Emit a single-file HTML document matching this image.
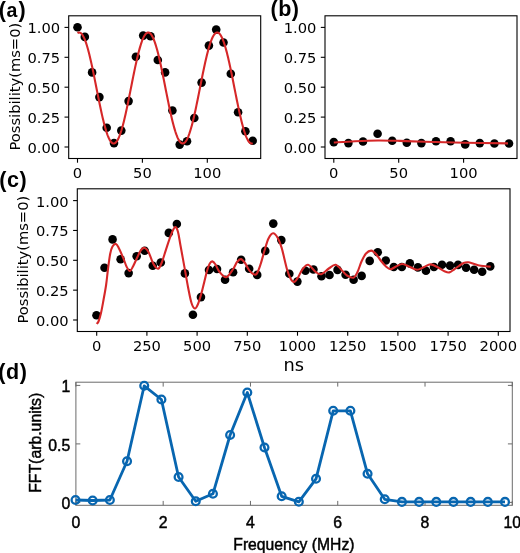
<!DOCTYPE html>
<html><head><meta charset="utf-8"><title>Figure</title>
<style>html,body{margin:0;padding:0;background:#fff;width:520px;height:553px;overflow:hidden}svg{display:block}text{fill:#000}.dt text{stroke:#000;stroke-width:0.45px}</style>
</head><body>
<svg width="520" height="553" viewBox="0 0 520 553">
<line x1="77.50" y1="158.50" x2="77.50" y2="162.70" stroke="#000" stroke-width="1.1"/>
<text x="77.50" y="178.10" font-size="14.70" style="font-family:'DejaVu Sans',sans-serif" text-anchor="middle" font-weight="normal">0</text>
<line x1="142.40" y1="158.50" x2="142.40" y2="162.70" stroke="#000" stroke-width="1.1"/>
<text x="142.40" y="178.10" font-size="14.70" style="font-family:'DejaVu Sans',sans-serif" text-anchor="middle" font-weight="normal">50</text>
<line x1="207.30" y1="158.50" x2="207.30" y2="162.70" stroke="#000" stroke-width="1.1"/>
<text x="207.30" y="178.10" font-size="14.70" style="font-family:'DejaVu Sans',sans-serif" text-anchor="middle" font-weight="normal">100</text>
<line x1="64.50" y1="147.00" x2="68.70" y2="147.00" stroke="#000" stroke-width="1.1"/>
<text x="60.10" y="152.90" font-size="14.70" style="font-family:'DejaVu Sans',sans-serif" text-anchor="end" font-weight="normal">0.00</text>
<line x1="64.50" y1="117.10" x2="68.70" y2="117.10" stroke="#000" stroke-width="1.1"/>
<text x="60.10" y="123.00" font-size="14.70" style="font-family:'DejaVu Sans',sans-serif" text-anchor="end" font-weight="normal">0.25</text>
<line x1="64.50" y1="87.20" x2="68.70" y2="87.20" stroke="#000" stroke-width="1.1"/>
<text x="60.10" y="93.10" font-size="14.70" style="font-family:'DejaVu Sans',sans-serif" text-anchor="end" font-weight="normal">0.50</text>
<line x1="64.50" y1="57.30" x2="68.70" y2="57.30" stroke="#000" stroke-width="1.1"/>
<text x="60.10" y="63.20" font-size="14.70" style="font-family:'DejaVu Sans',sans-serif" text-anchor="end" font-weight="normal">0.75</text>
<line x1="64.50" y1="27.40" x2="68.70" y2="27.40" stroke="#000" stroke-width="1.1"/>
<text x="60.10" y="33.30" font-size="14.70" style="font-family:'DejaVu Sans',sans-serif" text-anchor="end" font-weight="normal">1.00</text>
<text transform="translate(20.10,86.65) rotate(-90)" font-size="14.70" style="font-family:'DejaVu Sans',sans-serif" text-anchor="middle">Possibility(ms=0)</text>
<circle cx="77.50" cy="27.30" r="4.3" fill="#000"/>
<circle cx="84.80" cy="36.90" r="4.3" fill="#000"/>
<circle cx="92.10" cy="72.40" r="4.3" fill="#000"/>
<circle cx="99.40" cy="97.10" r="4.3" fill="#000"/>
<circle cx="106.70" cy="127.70" r="4.3" fill="#000"/>
<circle cx="114.00" cy="143.10" r="4.3" fill="#000"/>
<circle cx="121.30" cy="130.60" r="4.3" fill="#000"/>
<circle cx="128.60" cy="101.10" r="4.3" fill="#000"/>
<circle cx="135.90" cy="56.70" r="4.3" fill="#000"/>
<circle cx="143.20" cy="35.60" r="4.3" fill="#000"/>
<circle cx="150.50" cy="36.20" r="4.3" fill="#000"/>
<circle cx="157.80" cy="60.00" r="4.3" fill="#000"/>
<circle cx="165.10" cy="72.40" r="4.3" fill="#000"/>
<circle cx="172.40" cy="110.50" r="4.3" fill="#000"/>
<circle cx="179.70" cy="144.60" r="4.3" fill="#000"/>
<circle cx="187.00" cy="141.30" r="4.3" fill="#000"/>
<circle cx="194.30" cy="118.00" r="4.3" fill="#000"/>
<circle cx="201.60" cy="82.60" r="4.3" fill="#000"/>
<circle cx="208.90" cy="45.60" r="4.3" fill="#000"/>
<circle cx="216.20" cy="29.60" r="4.3" fill="#000"/>
<circle cx="223.50" cy="42.50" r="4.3" fill="#000"/>
<circle cx="230.80" cy="73.80" r="4.3" fill="#000"/>
<circle cx="238.10" cy="112.30" r="4.3" fill="#000"/>
<circle cx="245.40" cy="131.20" r="4.3" fill="#000"/>
<circle cx="252.70" cy="140.80" r="4.3" fill="#000"/>
<path d="M77.50,33.16 L78.09,32.79 L78.67,32.56 L79.26,32.50 L79.84,32.60 L80.43,32.85 L81.02,33.26 L81.60,33.82 L82.19,34.54 L82.77,35.41 L83.36,36.43 L83.95,37.60 L84.53,38.91 L85.12,40.36 L85.70,41.95 L86.29,43.67 L86.88,45.51 L87.46,47.48 L88.05,49.56 L88.63,51.75 L89.22,54.04 L89.81,56.43 L90.39,58.91 L90.98,61.47 L91.56,64.11 L92.15,66.81 L92.73,69.58 L93.32,72.40 L93.91,75.26 L94.49,78.16 L95.08,81.09 L95.66,84.03 L96.25,86.99 L96.84,89.95 L97.42,92.91 L98.01,95.85 L98.59,98.77 L99.18,101.66 L99.77,104.51 L100.35,107.31 L100.94,110.06 L101.52,112.74 L102.11,115.36 L102.70,117.89 L103.28,120.34 L103.87,122.70 L104.45,124.96 L105.04,127.12 L105.63,129.16 L106.21,131.09 L106.80,132.89 L107.38,134.57 L107.97,136.11 L108.56,137.52 L109.14,138.79 L109.73,139.91 L110.31,140.88 L110.90,141.70 L111.49,142.38 L112.07,142.89 L112.66,143.25 L113.24,143.45 L113.83,143.50 L114.42,143.38 L115.00,143.11 L115.59,142.68 L116.17,142.10 L116.76,141.36 L117.34,140.47 L117.93,139.43 L118.52,138.25 L119.10,136.92 L119.69,135.45 L120.27,133.85 L120.86,132.11 L121.45,130.26 L122.03,128.28 L122.62,126.18 L123.20,123.98 L123.79,121.67 L124.38,119.27 L124.96,116.78 L125.55,114.21 L126.13,111.57 L126.72,108.85 L127.31,106.08 L127.89,103.26 L128.48,100.39 L129.06,97.49 L129.65,94.56 L130.24,91.61 L130.82,88.65 L131.41,85.69 L131.99,82.73 L132.58,79.79 L133.17,76.88 L133.75,73.99 L134.34,71.15 L134.92,68.35 L135.51,65.61 L136.10,62.94 L136.68,60.33 L137.27,57.81 L137.85,55.36 L138.44,53.02 L139.03,50.77 L139.61,48.63 L140.20,46.60 L140.78,44.68 L141.37,42.90 L141.95,41.24 L142.54,39.71 L143.13,38.32 L143.71,37.07 L144.30,35.97 L144.88,35.01 L145.47,34.21 L146.06,33.55 L146.64,33.06 L147.23,32.72 L147.81,32.53 L148.40,32.51 L148.99,32.64 L149.57,32.93 L150.16,33.38 L150.74,33.98 L151.33,34.74 L151.92,35.65 L152.50,36.70 L153.09,37.91 L153.67,39.25 L154.26,40.74 L154.85,42.36 L155.43,44.11 L156.02,45.98 L156.60,47.97 L157.19,50.08 L157.78,52.30 L158.36,54.61 L158.95,57.02 L159.53,59.52 L160.12,62.11 L160.71,64.76 L161.29,67.48 L161.88,70.26 L162.46,73.09 L163.05,75.96 L163.64,78.87 L164.22,81.80 L164.81,84.75 L165.39,87.71 L165.98,90.67 L166.56,93.62 L167.15,96.56 L167.74,99.47 L168.32,102.35 L168.91,105.19 L169.49,107.98 L170.08,110.72 L170.67,113.38 L171.25,115.98 L171.84,118.50 L172.42,120.93 L173.01,123.26 L173.60,125.50 L174.18,127.63 L174.77,129.64 L175.35,131.54 L175.94,133.31 L176.53,134.96 L177.11,136.47 L177.70,137.84 L178.28,139.07 L178.87,140.16 L179.46,141.10 L180.04,141.88 L180.63,142.51 L181.21,142.99 L181.80,143.31 L182.39,143.48 L182.97,143.48 L183.56,143.33 L184.14,143.02 L184.73,142.55 L185.32,141.93 L185.90,141.16 L186.49,140.23 L187.07,139.16 L187.66,137.94 L188.25,136.57 L188.83,135.07 L189.42,133.44 L190.00,131.67 L190.59,129.78 L191.17,127.78 L191.76,125.66 L192.35,123.43 L192.93,121.10 L193.52,118.68 L194.10,116.17 L194.69,113.58 L195.28,110.91 L195.86,108.18 L196.45,105.40 L197.03,102.56 L197.62,99.69 L198.21,96.78 L198.79,93.84 L199.38,90.89 L199.96,87.93 L200.55,84.97 L201.14,82.02 L201.72,79.08 L202.31,76.17 L202.89,73.30 L203.48,70.47 L204.07,67.68 L204.65,64.96 L205.24,62.30 L205.82,59.71 L206.41,57.20 L207.00,54.79 L207.58,52.46 L208.17,50.24 L208.75,48.12 L209.34,46.12 L209.93,44.24 L210.51,42.48 L211.10,40.85 L211.68,39.36 L212.27,38.00 L212.86,36.79 L213.44,35.72 L214.03,34.80 L214.61,34.03 L215.20,33.42 L215.78,32.96 L216.37,32.66 L216.96,32.51 L217.54,32.53 L218.13,32.70 L218.71,33.03 L219.30,33.51 L219.89,34.15 L220.47,34.95 L221.06,35.89 L221.64,36.98 L222.23,38.22 L222.82,39.60 L223.40,41.12 L223.99,42.77 L224.57,44.55 L225.16,46.45 L225.75,48.47 L226.33,50.61 L226.92,52.85 L227.50,55.19 L228.09,57.62 L228.68,60.14 L229.26,62.74 L229.85,65.42 L230.43,68.15 L231.02,70.94 L231.61,73.79 L232.19,76.67 L232.78,79.58 L233.36,82.52 L233.95,85.47 L234.54,88.43 L235.12,91.39 L235.71,94.34 L236.29,97.27 L236.88,100.18 L237.47,103.05 L238.05,105.88 L238.64,108.65 L239.22,111.37 L239.81,114.02 L240.39,116.60 L240.98,119.09 L241.57,121.50 L242.15,123.81 L242.74,126.02 L243.32,128.13 L243.91,130.11 L244.50,131.98 L245.08,133.72 L245.67,135.34 L246.25,136.82 L246.84,138.15 L247.43,139.35 L248.01,140.40 L248.60,141.30 L249.18,142.05 L249.77,142.65 L250.36,143.08 L250.94,143.37 L251.53,143.49 L252.11,143.46 L252.70,143.27" fill="none" stroke="#d62728" stroke-width="2.1" stroke-linejoin="round"/>
<rect x="68.70" y="15.80" width="192.00" height="142.70" fill="none" stroke="#000" stroke-width="1.10"/>
<line x1="333.80" y1="158.50" x2="333.80" y2="162.70" stroke="#000" stroke-width="1.1"/>
<text x="333.80" y="178.10" font-size="14.70" style="font-family:'DejaVu Sans',sans-serif" text-anchor="middle" font-weight="normal">0</text>
<line x1="398.70" y1="158.50" x2="398.70" y2="162.70" stroke="#000" stroke-width="1.1"/>
<text x="398.70" y="178.10" font-size="14.70" style="font-family:'DejaVu Sans',sans-serif" text-anchor="middle" font-weight="normal">50</text>
<line x1="463.60" y1="158.50" x2="463.60" y2="162.70" stroke="#000" stroke-width="1.1"/>
<text x="463.60" y="178.10" font-size="14.70" style="font-family:'DejaVu Sans',sans-serif" text-anchor="middle" font-weight="normal">100</text>
<line x1="320.80" y1="147.00" x2="325.00" y2="147.00" stroke="#000" stroke-width="1.1"/>
<text x="316.40" y="152.90" font-size="14.70" style="font-family:'DejaVu Sans',sans-serif" text-anchor="end" font-weight="normal">0.00</text>
<line x1="320.80" y1="117.10" x2="325.00" y2="117.10" stroke="#000" stroke-width="1.1"/>
<text x="316.40" y="123.00" font-size="14.70" style="font-family:'DejaVu Sans',sans-serif" text-anchor="end" font-weight="normal">0.25</text>
<line x1="320.80" y1="87.20" x2="325.00" y2="87.20" stroke="#000" stroke-width="1.1"/>
<text x="316.40" y="93.10" font-size="14.70" style="font-family:'DejaVu Sans',sans-serif" text-anchor="end" font-weight="normal">0.50</text>
<line x1="320.80" y1="57.30" x2="325.00" y2="57.30" stroke="#000" stroke-width="1.1"/>
<text x="316.40" y="63.20" font-size="14.70" style="font-family:'DejaVu Sans',sans-serif" text-anchor="end" font-weight="normal">0.75</text>
<line x1="320.80" y1="27.40" x2="325.00" y2="27.40" stroke="#000" stroke-width="1.1"/>
<text x="316.40" y="33.30" font-size="14.70" style="font-family:'DejaVu Sans',sans-serif" text-anchor="end" font-weight="normal">1.00</text>
<circle cx="333.80" cy="142.10" r="4.3" fill="#000"/>
<circle cx="348.40" cy="143.10" r="4.3" fill="#000"/>
<circle cx="363.00" cy="141.50" r="4.3" fill="#000"/>
<circle cx="377.60" cy="133.80" r="4.3" fill="#000"/>
<circle cx="392.20" cy="140.80" r="4.3" fill="#000"/>
<circle cx="406.80" cy="142.70" r="4.3" fill="#000"/>
<circle cx="421.40" cy="143.10" r="4.3" fill="#000"/>
<circle cx="436.00" cy="141.20" r="4.3" fill="#000"/>
<circle cx="450.60" cy="141.20" r="4.3" fill="#000"/>
<circle cx="465.20" cy="144.40" r="4.3" fill="#000"/>
<circle cx="479.80" cy="143.10" r="4.3" fill="#000"/>
<circle cx="494.40" cy="143.50" r="4.3" fill="#000"/>
<circle cx="509.00" cy="143.50" r="4.3" fill="#000"/>
<path d="M333.80,142.50 C337.33,142.28 347.63,141.53 355.00,141.20 C362.37,140.87 370.50,140.55 378.00,140.50 C385.50,140.45 392.17,140.68 400.00,140.90 C407.83,141.12 414.17,141.48 425.00,141.80 C435.83,142.12 451.17,142.53 465.00,142.80 C478.83,143.07 500.83,143.30 508.00,143.40" fill="none" stroke="#d62728" stroke-width="2.1"/>
<rect x="325.00" y="15.80" width="192.00" height="142.70" fill="none" stroke="#000" stroke-width="1.10"/>
<line x1="96.70" y1="331.50" x2="96.70" y2="335.70" stroke="#000" stroke-width="1.1"/>
<text x="96.70" y="351.10" font-size="14.70" style="font-family:'DejaVu Sans',sans-serif" text-anchor="middle" font-weight="normal">0</text>
<line x1="146.90" y1="331.50" x2="146.90" y2="335.70" stroke="#000" stroke-width="1.1"/>
<text x="146.90" y="351.10" font-size="14.70" style="font-family:'DejaVu Sans',sans-serif" text-anchor="middle" font-weight="normal">250</text>
<line x1="197.10" y1="331.50" x2="197.10" y2="335.70" stroke="#000" stroke-width="1.1"/>
<text x="197.10" y="351.10" font-size="14.70" style="font-family:'DejaVu Sans',sans-serif" text-anchor="middle" font-weight="normal">500</text>
<line x1="247.30" y1="331.50" x2="247.30" y2="335.70" stroke="#000" stroke-width="1.1"/>
<text x="247.30" y="351.10" font-size="14.70" style="font-family:'DejaVu Sans',sans-serif" text-anchor="middle" font-weight="normal">750</text>
<line x1="297.50" y1="331.50" x2="297.50" y2="335.70" stroke="#000" stroke-width="1.1"/>
<text x="297.50" y="351.10" font-size="14.70" style="font-family:'DejaVu Sans',sans-serif" text-anchor="middle" font-weight="normal">1000</text>
<line x1="347.70" y1="331.50" x2="347.70" y2="335.70" stroke="#000" stroke-width="1.1"/>
<text x="347.70" y="351.10" font-size="14.70" style="font-family:'DejaVu Sans',sans-serif" text-anchor="middle" font-weight="normal">1250</text>
<line x1="397.90" y1="331.50" x2="397.90" y2="335.70" stroke="#000" stroke-width="1.1"/>
<text x="397.90" y="351.10" font-size="14.70" style="font-family:'DejaVu Sans',sans-serif" text-anchor="middle" font-weight="normal">1500</text>
<line x1="448.10" y1="331.50" x2="448.10" y2="335.70" stroke="#000" stroke-width="1.1"/>
<text x="448.10" y="351.10" font-size="14.70" style="font-family:'DejaVu Sans',sans-serif" text-anchor="middle" font-weight="normal">1750</text>
<line x1="498.30" y1="331.50" x2="498.30" y2="335.70" stroke="#000" stroke-width="1.1"/>
<text x="498.30" y="351.10" font-size="14.70" style="font-family:'DejaVu Sans',sans-serif" text-anchor="middle" font-weight="normal">2000</text>
<line x1="73.10" y1="320.00" x2="77.30" y2="320.00" stroke="#000" stroke-width="1.1"/>
<text x="68.70" y="325.90" font-size="14.70" style="font-family:'DejaVu Sans',sans-serif" text-anchor="end" font-weight="normal">0.00</text>
<line x1="73.10" y1="290.15" x2="77.30" y2="290.15" stroke="#000" stroke-width="1.1"/>
<text x="68.70" y="296.05" font-size="14.70" style="font-family:'DejaVu Sans',sans-serif" text-anchor="end" font-weight="normal">0.25</text>
<line x1="73.10" y1="260.30" x2="77.30" y2="260.30" stroke="#000" stroke-width="1.1"/>
<text x="68.70" y="266.20" font-size="14.70" style="font-family:'DejaVu Sans',sans-serif" text-anchor="end" font-weight="normal">0.50</text>
<line x1="73.10" y1="230.45" x2="77.30" y2="230.45" stroke="#000" stroke-width="1.1"/>
<text x="68.70" y="236.35" font-size="14.70" style="font-family:'DejaVu Sans',sans-serif" text-anchor="end" font-weight="normal">0.75</text>
<line x1="73.10" y1="200.60" x2="77.30" y2="200.60" stroke="#000" stroke-width="1.1"/>
<text x="68.70" y="206.50" font-size="14.70" style="font-family:'DejaVu Sans',sans-serif" text-anchor="end" font-weight="normal">1.00</text>
<text transform="translate(28.40,259.65) rotate(-90)" font-size="14.70" style="font-family:'DejaVu Sans',sans-serif" text-anchor="middle">Possibility(ms=0)</text>
<text x="293.70" y="370.90" font-size="17.80" style="font-family:'DejaVu Sans',sans-serif" text-anchor="middle" font-weight="normal">ns</text>
<circle cx="96.50" cy="315.20" r="4.3" fill="#000"/>
<circle cx="104.53" cy="267.70" r="4.3" fill="#000"/>
<circle cx="112.57" cy="239.40" r="4.3" fill="#000"/>
<circle cx="120.61" cy="259.30" r="4.3" fill="#000"/>
<circle cx="128.64" cy="273.10" r="4.3" fill="#000"/>
<circle cx="136.68" cy="256.30" r="4.3" fill="#000"/>
<circle cx="144.71" cy="250.80" r="4.3" fill="#000"/>
<circle cx="152.75" cy="265.80" r="4.3" fill="#000"/>
<circle cx="160.78" cy="262.50" r="4.3" fill="#000"/>
<circle cx="168.81" cy="232.90" r="4.3" fill="#000"/>
<circle cx="176.85" cy="224.00" r="4.3" fill="#000"/>
<circle cx="184.88" cy="273.40" r="4.3" fill="#000"/>
<circle cx="192.92" cy="314.70" r="4.3" fill="#000"/>
<circle cx="200.95" cy="297.10" r="4.3" fill="#000"/>
<circle cx="208.99" cy="270.00" r="4.3" fill="#000"/>
<circle cx="217.03" cy="269.00" r="4.3" fill="#000"/>
<circle cx="225.06" cy="279.80" r="4.3" fill="#000"/>
<circle cx="233.09" cy="272.30" r="4.3" fill="#000"/>
<circle cx="241.13" cy="259.80" r="4.3" fill="#000"/>
<circle cx="249.16" cy="268.70" r="4.3" fill="#000"/>
<circle cx="257.20" cy="274.90" r="4.3" fill="#000"/>
<circle cx="265.24" cy="250.90" r="4.3" fill="#000"/>
<circle cx="273.27" cy="223.60" r="4.3" fill="#000"/>
<circle cx="281.31" cy="240.10" r="4.3" fill="#000"/>
<circle cx="289.34" cy="273.80" r="4.3" fill="#000"/>
<circle cx="297.38" cy="281.60" r="4.3" fill="#000"/>
<circle cx="305.41" cy="270.70" r="4.3" fill="#000"/>
<circle cx="313.44" cy="269.50" r="4.3" fill="#000"/>
<circle cx="321.48" cy="276.20" r="4.3" fill="#000"/>
<circle cx="329.51" cy="275.00" r="4.3" fill="#000"/>
<circle cx="337.55" cy="269.90" r="4.3" fill="#000"/>
<circle cx="345.59" cy="274.80" r="4.3" fill="#000"/>
<circle cx="353.62" cy="279.80" r="4.3" fill="#000"/>
<circle cx="361.66" cy="275.90" r="4.3" fill="#000"/>
<circle cx="369.69" cy="260.90" r="4.3" fill="#000"/>
<circle cx="377.73" cy="252.30" r="4.3" fill="#000"/>
<circle cx="385.76" cy="260.50" r="4.3" fill="#000"/>
<circle cx="393.80" cy="267.00" r="4.3" fill="#000"/>
<circle cx="401.83" cy="267.00" r="4.3" fill="#000"/>
<circle cx="409.87" cy="263.40" r="4.3" fill="#000"/>
<circle cx="417.90" cy="267.40" r="4.3" fill="#000"/>
<circle cx="425.94" cy="270.80" r="4.3" fill="#000"/>
<circle cx="433.97" cy="267.00" r="4.3" fill="#000"/>
<circle cx="442.00" cy="264.70" r="4.3" fill="#000"/>
<circle cx="450.04" cy="265.60" r="4.3" fill="#000"/>
<circle cx="458.07" cy="264.90" r="4.3" fill="#000"/>
<circle cx="466.11" cy="267.70" r="4.3" fill="#000"/>
<circle cx="474.14" cy="269.80" r="4.3" fill="#000"/>
<circle cx="482.18" cy="271.70" r="4.3" fill="#000"/>
<circle cx="490.22" cy="266.40" r="4.3" fill="#000"/>
<path d="M96.50,323.80 C96.83,323.42 97.75,323.30 98.50,321.50 C99.25,319.70 100.17,316.58 101.00,313.00 C101.83,309.42 102.65,304.67 103.50,300.00 C104.35,295.33 105.35,290.17 106.10,285.00 C106.85,279.83 107.32,274.20 108.00,269.00 C108.68,263.80 109.45,257.55 110.20,253.80 C110.95,250.05 111.53,248.13 112.50,246.50 C113.47,244.87 114.92,243.67 116.00,244.00 C117.08,244.33 117.77,246.10 119.00,248.50 C120.23,250.90 122.15,255.40 123.40,258.40 C124.65,261.40 125.43,264.40 126.50,266.50 C127.57,268.60 128.72,271.00 129.80,271.00 C130.88,271.00 131.75,268.78 133.00,266.50 C134.25,264.22 135.97,260.05 137.30,257.30 C138.63,254.55 139.75,251.55 141.00,250.00 C142.25,248.45 143.55,247.67 144.80,248.00 C146.05,248.33 147.22,249.67 148.50,252.00 C149.78,254.33 151.33,259.50 152.50,262.00 C153.67,264.50 154.50,265.90 155.50,267.00 C156.50,268.10 157.42,269.43 158.50,268.60 C159.58,267.77 160.75,265.17 162.00,262.00 C163.25,258.83 164.48,254.17 166.00,249.60 C167.52,245.03 169.57,238.35 171.10,234.60 C172.63,230.85 174.05,227.53 175.20,227.10 C176.35,226.67 177.13,229.02 178.00,232.00 C178.87,234.98 179.33,239.18 180.40,245.00 C181.47,250.82 183.13,259.90 184.40,266.90 C185.67,273.90 186.82,280.98 188.00,287.00 C189.18,293.02 190.35,299.42 191.50,303.00 C192.65,306.58 193.82,308.33 194.90,308.50 C195.98,308.67 196.90,306.58 198.00,304.00 C199.10,301.42 200.42,296.83 201.50,293.00 C202.58,289.17 203.55,284.78 204.50,281.00 C205.45,277.22 206.32,273.22 207.20,270.30 C208.08,267.38 208.95,264.98 209.80,263.50 C210.65,262.02 211.35,261.23 212.30,261.40 C213.25,261.57 214.35,262.82 215.50,264.50 C216.65,266.18 217.42,269.38 219.20,271.50 C220.98,273.62 223.87,277.62 226.20,277.20 C228.53,276.78 231.40,271.53 233.20,269.00 C235.00,266.47 235.72,263.65 237.00,262.00 C238.28,260.35 239.57,258.93 240.90,259.10 C242.23,259.27 243.65,261.18 245.00,263.00 C246.35,264.82 247.75,268.25 249.00,270.00 C250.25,271.75 251.25,272.83 252.50,273.50 C253.75,274.17 255.17,275.50 256.50,274.00 C257.83,272.50 259.15,268.45 260.50,264.50 C261.85,260.55 263.27,254.63 264.60,250.30 C265.93,245.97 267.08,241.33 268.50,238.50 C269.92,235.67 271.60,233.47 273.10,233.30 C274.60,233.13 276.08,235.12 277.50,237.50 C278.92,239.88 280.02,242.30 281.60,247.60 C283.18,252.90 285.52,264.15 287.00,269.30 C288.48,274.45 289.33,276.38 290.50,278.50 C291.67,280.62 292.75,282.17 294.00,282.00 C295.25,281.83 296.62,279.57 298.00,277.50 C299.38,275.43 300.62,271.72 302.30,269.60 C303.98,267.48 305.88,264.42 308.10,264.80 C310.32,265.18 313.40,270.33 315.60,271.90 C317.80,273.47 319.10,274.77 321.30,274.20 C323.50,273.63 326.40,270.07 328.80,268.50 C331.20,266.93 333.38,264.33 335.70,264.80 C338.02,265.27 340.82,269.52 342.70,271.30 C344.58,273.08 345.20,274.43 347.00,275.50 C348.80,276.57 351.75,278.28 353.50,277.70 C355.25,277.12 356.17,274.70 357.50,272.00 C358.83,269.30 360.08,264.58 361.50,261.50 C362.92,258.42 364.37,255.32 366.00,253.50 C367.63,251.68 369.63,250.52 371.30,250.60 C372.97,250.68 374.37,252.27 376.00,254.00 C377.63,255.73 379.43,258.92 381.10,261.00 C382.77,263.08 384.43,265.13 386.00,266.50 C387.57,267.87 388.83,269.20 390.50,269.20 C392.17,269.20 394.03,267.37 396.00,266.50 C397.97,265.63 400.13,264.00 402.30,264.00 C404.47,264.00 406.55,265.53 409.00,266.50 C411.45,267.47 414.50,269.72 417.00,269.80 C419.50,269.88 421.73,267.90 424.00,267.00 C426.27,266.10 428.27,264.32 430.60,264.40 C432.93,264.48 435.60,266.32 438.00,267.50 C440.40,268.68 443.12,270.68 445.00,271.50 C446.88,272.32 447.80,272.73 449.30,272.40 C450.80,272.07 452.38,270.57 454.00,269.50 C455.62,268.43 457.42,267.08 459.00,266.00 C460.58,264.92 461.95,263.62 463.50,263.00 C465.05,262.38 466.63,262.17 468.30,262.30 C469.97,262.43 471.87,263.32 473.50,263.80 C475.13,264.28 476.00,264.78 478.10,265.20 C480.20,265.62 484.00,266.05 486.10,266.30 C488.20,266.55 489.93,266.63 490.70,266.70" fill="none" stroke="#d62728" stroke-width="2.1"/>
<rect x="77.30" y="188.80" width="432.70" height="142.70" fill="none" stroke="#000" stroke-width="1.10"/>
<g class="dt">
<line x1="75.90" y1="505.30" x2="75.90" y2="500.90" stroke="#6b6b6b" stroke-width="1"/>
<line x1="75.90" y1="382.20" x2="75.90" y2="386.60" stroke="#6b6b6b" stroke-width="1"/>
<text x="75.90" y="527.50" font-size="15.80" style="font-family:'Liberation Sans',Arial,sans-serif" text-anchor="middle" font-weight="normal">0</text>
<line x1="163.18" y1="505.30" x2="163.18" y2="500.90" stroke="#6b6b6b" stroke-width="1"/>
<line x1="163.18" y1="382.20" x2="163.18" y2="386.60" stroke="#6b6b6b" stroke-width="1"/>
<text x="163.18" y="527.50" font-size="15.80" style="font-family:'Liberation Sans',Arial,sans-serif" text-anchor="middle" font-weight="normal">2</text>
<line x1="250.46" y1="505.30" x2="250.46" y2="500.90" stroke="#6b6b6b" stroke-width="1"/>
<line x1="250.46" y1="382.20" x2="250.46" y2="386.60" stroke="#6b6b6b" stroke-width="1"/>
<text x="250.46" y="527.50" font-size="15.80" style="font-family:'Liberation Sans',Arial,sans-serif" text-anchor="middle" font-weight="normal">4</text>
<line x1="337.74" y1="505.30" x2="337.74" y2="500.90" stroke="#6b6b6b" stroke-width="1"/>
<line x1="337.74" y1="382.20" x2="337.74" y2="386.60" stroke="#6b6b6b" stroke-width="1"/>
<text x="337.74" y="527.50" font-size="15.80" style="font-family:'Liberation Sans',Arial,sans-serif" text-anchor="middle" font-weight="normal">6</text>
<line x1="425.02" y1="505.30" x2="425.02" y2="500.90" stroke="#6b6b6b" stroke-width="1"/>
<line x1="425.02" y1="382.20" x2="425.02" y2="386.60" stroke="#6b6b6b" stroke-width="1"/>
<text x="425.02" y="527.50" font-size="15.80" style="font-family:'Liberation Sans',Arial,sans-serif" text-anchor="middle" font-weight="normal">8</text>
<line x1="512.30" y1="505.30" x2="512.30" y2="500.90" stroke="#6b6b6b" stroke-width="1"/>
<line x1="512.30" y1="382.20" x2="512.30" y2="386.60" stroke="#6b6b6b" stroke-width="1"/>
<text x="512.30" y="527.50" font-size="15.80" style="font-family:'Liberation Sans',Arial,sans-serif" text-anchor="middle" font-weight="normal">10</text>
<line x1="75.90" y1="502.40" x2="80.30" y2="502.40" stroke="#6b6b6b" stroke-width="1"/>
<line x1="512.30" y1="502.40" x2="507.90" y2="502.40" stroke="#6b6b6b" stroke-width="1"/>
<text x="70.30" y="509.00" font-size="15.80" style="font-family:'Liberation Sans',Arial,sans-serif" text-anchor="end" font-weight="normal">0</text>
<line x1="75.90" y1="443.90" x2="80.30" y2="443.90" stroke="#6b6b6b" stroke-width="1"/>
<line x1="512.30" y1="443.90" x2="507.90" y2="443.90" stroke="#6b6b6b" stroke-width="1"/>
<text x="70.30" y="450.50" font-size="15.80" style="font-family:'Liberation Sans',Arial,sans-serif" text-anchor="end" font-weight="normal">0.5</text>
<line x1="75.90" y1="385.40" x2="80.30" y2="385.40" stroke="#6b6b6b" stroke-width="1"/>
<line x1="512.30" y1="385.40" x2="507.90" y2="385.40" stroke="#6b6b6b" stroke-width="1"/>
<text x="70.30" y="392.00" font-size="15.80" style="font-family:'Liberation Sans',Arial,sans-serif" text-anchor="end" font-weight="normal">1</text>
<text transform="translate(40.7,442.80) rotate(-90)" font-size="15.8" style="font-family:'Liberation Sans',Arial,sans-serif" text-anchor="middle">FFT(arb.units)</text>
<text x="293.90" y="550.20" font-size="15.70" style="font-family:'Liberation Sans',Arial,sans-serif" text-anchor="middle" font-weight="normal">Frequency (MHz)</text>
</g>
<rect x="75.90" y="382.20" width="436.40" height="123.10" fill="none" stroke="#6b6b6b" stroke-width="1.00"/>
<path d="M75.50,500.00 L92.68,500.50 L109.86,500.00 L127.04,461.30 L144.22,385.80 L161.40,399.50 L178.58,477.00 L195.76,501.30 L212.94,493.80 L230.12,435.00 L247.30,392.50 L264.48,447.50 L281.66,496.30 L298.84,501.80 L316.02,478.80 L333.20,410.80 L350.38,410.80 L367.56,473.80 L384.74,499.30 L401.92,501.90 L419.10,501.90 L436.28,501.90 L453.46,501.90 L470.64,501.90 L487.82,501.90 L505.00,501.90" fill="none" stroke="#0866b0" stroke-width="2.8" stroke-linejoin="round"/>
<circle cx="75.50" cy="500.00" r="3.9" fill="none" stroke="#0866b0" stroke-width="2.3"/>
<circle cx="92.68" cy="500.50" r="3.9" fill="none" stroke="#0866b0" stroke-width="2.3"/>
<circle cx="109.86" cy="500.00" r="3.9" fill="none" stroke="#0866b0" stroke-width="2.3"/>
<circle cx="127.04" cy="461.30" r="3.9" fill="none" stroke="#0866b0" stroke-width="2.3"/>
<circle cx="144.22" cy="385.80" r="3.9" fill="none" stroke="#0866b0" stroke-width="2.3"/>
<circle cx="161.40" cy="399.50" r="3.9" fill="none" stroke="#0866b0" stroke-width="2.3"/>
<circle cx="178.58" cy="477.00" r="3.9" fill="none" stroke="#0866b0" stroke-width="2.3"/>
<circle cx="195.76" cy="501.30" r="3.9" fill="none" stroke="#0866b0" stroke-width="2.3"/>
<circle cx="212.94" cy="493.80" r="3.9" fill="none" stroke="#0866b0" stroke-width="2.3"/>
<circle cx="230.12" cy="435.00" r="3.9" fill="none" stroke="#0866b0" stroke-width="2.3"/>
<circle cx="247.30" cy="392.50" r="3.9" fill="none" stroke="#0866b0" stroke-width="2.3"/>
<circle cx="264.48" cy="447.50" r="3.9" fill="none" stroke="#0866b0" stroke-width="2.3"/>
<circle cx="281.66" cy="496.30" r="3.9" fill="none" stroke="#0866b0" stroke-width="2.3"/>
<circle cx="298.84" cy="501.80" r="3.9" fill="none" stroke="#0866b0" stroke-width="2.3"/>
<circle cx="316.02" cy="478.80" r="3.9" fill="none" stroke="#0866b0" stroke-width="2.3"/>
<circle cx="333.20" cy="410.80" r="3.9" fill="none" stroke="#0866b0" stroke-width="2.3"/>
<circle cx="350.38" cy="410.80" r="3.9" fill="none" stroke="#0866b0" stroke-width="2.3"/>
<circle cx="367.56" cy="473.80" r="3.9" fill="none" stroke="#0866b0" stroke-width="2.3"/>
<circle cx="384.74" cy="499.30" r="3.9" fill="none" stroke="#0866b0" stroke-width="2.3"/>
<circle cx="401.92" cy="501.90" r="3.9" fill="none" stroke="#0866b0" stroke-width="2.3"/>
<circle cx="419.10" cy="501.90" r="3.9" fill="none" stroke="#0866b0" stroke-width="2.3"/>
<circle cx="436.28" cy="501.90" r="3.9" fill="none" stroke="#0866b0" stroke-width="2.3"/>
<circle cx="453.46" cy="501.90" r="3.9" fill="none" stroke="#0866b0" stroke-width="2.3"/>
<circle cx="470.64" cy="501.90" r="3.9" fill="none" stroke="#0866b0" stroke-width="2.3"/>
<circle cx="487.82" cy="501.90" r="3.9" fill="none" stroke="#0866b0" stroke-width="2.3"/>
<circle cx="505.00" cy="501.90" r="3.9" fill="none" stroke="#0866b0" stroke-width="2.3"/>
<text x="-1.30" y="16.80" font-size="21.50" style="font-family:'Liberation Sans',Arial,sans-serif" font-weight="bold">(<tspan dx="0.62" font-size="19.50">a</tspan><tspan dx="1.23">)</tspan></text>
<text x="270.60" y="16.20" font-size="21.50" style="font-family:'Liberation Sans',Arial,sans-serif" font-weight="bold">(<tspan dx="0.60" font-size="21.50">b</tspan><tspan dx="0.16">)</tspan></text>
<text x="-0.75" y="186.60" font-size="21.50" style="font-family:'Liberation Sans',Arial,sans-serif" font-weight="bold">(<tspan dx="0.50" font-size="21.50">c</tspan><tspan dx="0.58">)</tspan></text>
<text x="-1.80" y="378.90" font-size="21.50" style="font-family:'Liberation Sans',Arial,sans-serif" font-weight="bold">(<tspan dx="0.74" font-size="21.50">d</tspan><tspan dx="0.52">)</tspan></text>
</svg>
</body></html>
